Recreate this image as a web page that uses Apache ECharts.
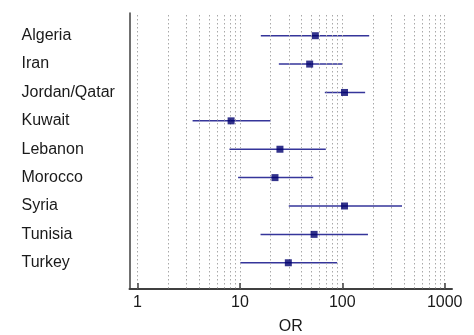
<!DOCTYPE html>
<html>
<head>
<meta charset="utf-8">
<script src="https://cdn.jsdelivr.net/npm/echarts@6/dist/echarts.min.js"></script>
<style>html,body{margin:0;padding:0;background:#fff}#c{width:474px;height:335px}</style>
</head>
<body>
<div id="c"></div>
<script>
const countries = ['Algeria','Iran','Jordan/Qatar','Kuwait','Lebanon','Morocco','Syria','Tunisia','Turkey'];
const orValues = [54.5, 48, 105, 8.2, 24.6, 22, 105, 53, 29.7];
const ciLow    = [16, 24, 67.5, 3.45, 7.9, 9.6, 30, 15.9, 10.1];
const ciHigh   = [183, 100, 167, 19.9, 69, 52, 383, 178, 89];
const majorTicks = [1, 10, 100, 1000];
const gridValues = [];
[1, 10, 100].forEach(d => { for (let k = 1; k <= 9; k++) gridValues.push(k * d); });
gridValues.push(1000);

const FONT = '"Liberation Sans", Arial, sans-serif';
const yMin = 0.2, yMax = 9.9;

const chart = echarts.init(document.getElementById('c'));
chart.setOption({
  animation: false,
  backgroundColor: '#fff',
  grid: { left: 129.5, right: 22, top: 13, bottom: 46.7, containLabel: false, outerBoundsMode: 'none' },
  xAxis: {
    type: 'log', logBase: 10, min: 0.835, max: 1178,
    name: 'OR', nameLocation: 'middle', nameGap: 30,
    nameTextStyle: { fontFamily: FONT, fontSize: 16, color: '#1a1a1a' },
    axisLine: { show: true, onZero: false, lineStyle: { color: '#404040', width: 2 } },
    axisTick: { show: false },
    splitLine: { show: false },
    axisLabel: {
      fontFamily: FONT, fontSize: 16, color: '#1a1a1a', margin: 6,
      formatter: function (v) {
        const l = Math.log10(v);
        return Math.abs(l - Math.round(l)) < 1e-6 && v >= 0.99 && v <= 1001 ? String(Math.round(v)) : '';
      }
    }
  },
  yAxis: {
    type: 'value', inverse: true, min: yMin, max: yMax,
    axisLine: { show: true, onZero: false, lineStyle: { color: '#404040', width: 1.5 } },
    axisTick: { show: false },
    splitLine: { show: false },
    axisLabel: {
      customValues: countries.map((c, i) => i + 1),
      formatter: function (v) { return countries[Math.round(v) - 1] || ''; },
      align: 'left', margin: 108,
      fontFamily: FONT, fontSize: 16, color: '#1a1a1a'
    }
  },
  series: [
    {
      type: 'scatter', data: [], z: 1, silent: true,
      markLine: {
        silent: true, symbol: ['none', 'none'], label: { show: false },
        lineStyle: { color: '#a8a8a8', width: 1, type: [1.5, 2.5] },
        emphasis: { disabled: true },
        data: gridValues.map(v => [{ coord: [v, yMin + 0.07] }, { coord: [v, yMax] }])
      }
    },
    {
      type: 'scatter', data: [], z: 3, silent: true,
      markLine: {
        silent: true, symbol: ['none', 'none'], label: { show: false },
        lineStyle: { color: '#404040', width: 1.5, type: 'solid' },
        emphasis: { disabled: true },
        data: majorTicks.map(v => [{ coord: [v, yMax] }, { coord: [v, yMax - 0.19] }])
      }
    },
    {
      type: 'custom', z: 4, silent: true,
      data: countries.map((c, i) => [ciLow[i], ciHigh[i], i + 1]),
      encode: { x: [0, 1], y: 2 },
      renderItem: function (params, api) {
        const p1 = api.coord([api.value(0), api.value(2)]);
        const p2 = api.coord([api.value(1), api.value(2)]);
        return {
          type: 'line',
          shape: { x1: p1[0], y1: p1[1], x2: p2[0], y2: p2[1] },
          style: { stroke: '#35359a', lineWidth: 1.5 }
        };
      }
    },
    {
      type: 'scatter', z: 5, silent: true,
      symbol: 'rect', symbolSize: 7,
      itemStyle: { color: '#00006e' },
      data: countries.map((c, i) => [orValues[i], i + 1])
    }
  ]
});
</script>
</body>
</html>
